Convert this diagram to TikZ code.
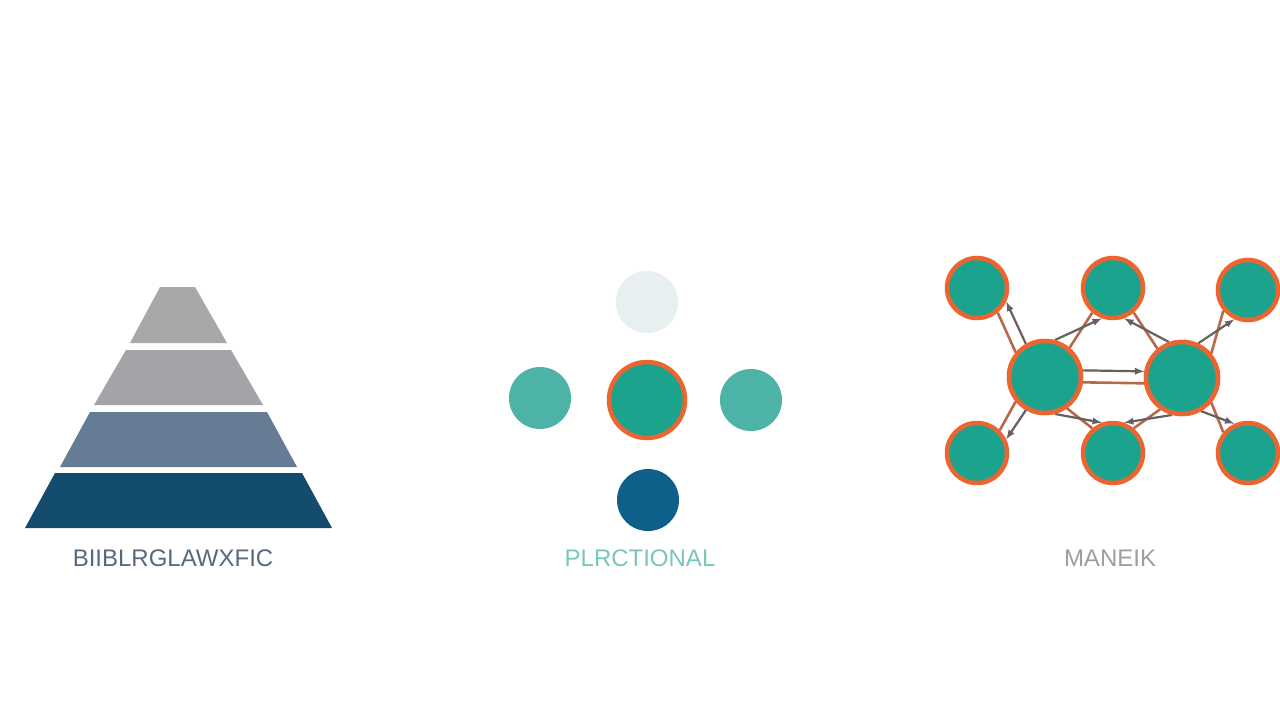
\documentclass[tikz,border=0pt]{standalone}
\usepackage{fontspec}
\setmainfont{Liberation Sans}
\usepackage{tikz}
\usetikzlibrary{calc}

\definecolor{layerA}{HTML}{A7A8AA}
\definecolor{layerB}{HTML}{A2A4A8}
\definecolor{layerC}{HTML}{667C94}
\definecolor{layerD}{HTML}{144C6E}
\definecolor{paletl}{HTML}{E7EFF1}
\definecolor{softteal}{HTML}{4DB3A7}
\definecolor{deepteal}{HTML}{1CA38D}
\definecolor{rim}{HTML}{EC6531}
\definecolor{navy}{HTML}{0E5F8A}
\definecolor{wire}{HTML}{66605E}
\definecolor{rust}{HTML}{B8694C}

\begin{document}
\begin{tikzpicture}[x=1pt,y=-1pt,
    dot/.style={shape=circle,inner sep=0pt,minimum size=62pt},
    hubdot/.style={shape=circle,draw=rim,line width=4.5pt,fill=deepteal,inner sep=0pt},
    strand/.style={draw=wire,line width=2.2pt,-latex},
    rustline/.style={draw=rust,line width=2.6pt},
    caption/.style={font=\fontsize{24}{28}\selectfont}]
\useasboundingbox[fill=white] (0,0) rectangle (1280,720);

% pyramid
\fill[layerA] (160,287) -- (195,287) -- (227,343) -- (130,343) -- cycle;
\fill[layerB] (126,350) -- (231,350) -- (263,405) -- (94,405) -- cycle;
\fill[layerC] (90,412) -- (267,412) -- (297,467) -- (60,467) -- cycle;
\fill[layerD] (55,473) -- (302,473) -- (332,528) -- (25,528) -- cycle;
\node[caption,text=layerC!85!black] (hier) at (173,558) {BIIBLRGLAWXFIC};

% five circles
\node[dot,fill=paletl] (top) at (647,302) {};
\node[dot,fill=softteal] (left) at (540,398) {};
\node[dot,fill=softteal] (right) at (751,400) {};
\node[dot,fill=navy] (bottom) at (648,500) {};
\node[hubdot,minimum size=76pt] (core) at (647,400) {};
\node[caption,text=softteal!75!white] (func) at (640,558) {PLRCTIONAL};

% network
\node[hubdot,minimum size=60pt] (tl) at (977,288) {};
\node[hubdot,minimum size=60pt] (tm) at (1113,288) {};
\node[hubdot,minimum size=60pt] (tr) at (1248,290) {};
\node[hubdot,minimum size=60pt] (bl) at (977,453) {};
\node[hubdot,minimum size=60pt] (bm) at (1113,453) {};
\node[hubdot,minimum size=60pt] (br) at (1248,453) {};
\node[hubdot,minimum size=72pt] (hl) at (1045,377) {};
\node[hubdot,minimum size=72pt] (hr) at (1182,378) {};

\path[rustline] (hl.140) -- (tl.-50);
\path[strand] (hl.120) -- (tl.-25);
\path[rustline] (hl.50) -- (tm.-130);
\path[strand] (hl.75) -- (tm.-110);
\path[rustline] (hl.-140) -- (bl.45);
\path[strand] (hl.-120) -- (bl.25);
\path[rustline] (hl.-55) -- (bm.130);
\path[strand] (hl.-75) -- (bm.110);
\path[strand] (hl.10) -- (hr.170);
\path[rustline] (hl.-8) -- (hr.-172);
\path[rustline] (hr.130) -- (tm.-50);
\path[strand] (hr.110) -- (tm.-70);
\path[rustline] (hr.40) -- (tr.-140);
\path[strand] (hr.65) -- (tr.-115);
\path[rustline] (hr.-125) -- (bm.50);
\path[strand] (hr.-105) -- (bm.70);
\path[rustline] (hr.-40) -- (br.140);
\path[strand] (hr.-60) -- (br.115);

% redraw circles over the lines
\node[hubdot,minimum size=72pt] at (hl) {};
\node[hubdot,minimum size=72pt] at (hr) {};
\node[caption,text=black!38] (net) at (1110,558) {MANEIK};
\end{tikzpicture}
\end{document}
